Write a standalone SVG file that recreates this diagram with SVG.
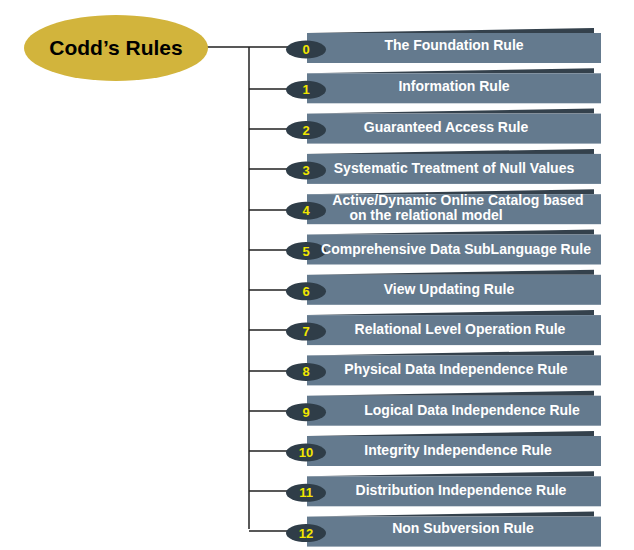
<svg xmlns="http://www.w3.org/2000/svg" width="634" height="550" viewBox="0 0 634 550">
<style>
.bar{fill:#647a8e}.top{fill:#34414c}.badge{fill:#2f3d48}
.t{font-family:"Liberation Sans",Arial,sans-serif;font-weight:bold;font-size:14px;fill:#fff;text-anchor:middle}
.n{font-family:"Liberation Sans",Arial,sans-serif;font-weight:bold;font-size:13px;fill:#f2e600;text-anchor:middle}
.ln{stroke:#222;stroke-width:1.5;fill:none}
</style>
<defs>
<g id="row">
<polygon class="top" points="307,33 594,28 594,33"/>
<rect class="bar" x="307" y="33" width="294" height="30"/>
<ellipse class="badge" cx="306" cy="49.5" rx="20" ry="9"/>
</g>
</defs>
<g id="connectors">
<path class="ln" d="M207,47 H290 M249,47 V529"/>
<path class="ln" d="M249,89 H288 M249,129 H288 M249,169 H288 M249,210 H288 M249,250 H288 M249,290 H288 M249,330 H288 M249,371 H288 M249,411 H288 M249,451 H288 M249,491 H288 M249,531 H288"/>
</g>
<g id="root">
<ellipse cx="116" cy="48" rx="92" ry="33" fill="#d2b43c"/>
<text x="116" y="55" font-family="Liberation Sans,Arial,sans-serif" font-weight="bold" font-size="21" text-anchor="middle" fill="#000">Codd’s Rules</text>
</g>
<g id="r0" transform="translate(0,0)"><use href="#row"/><text class="n" x="306" y="54">0</text><text class="t" x="454" y="50">The Foundation Rule</text></g>
<g id="r1" transform="translate(0,40.3)"><use href="#row"/><text class="n" x="306" y="54">1</text><text class="t" x="454" y="51">Information Rule</text></g>
<g id="r2" transform="translate(0,80.6)"><use href="#row"/><text class="n" x="306" y="54">2</text><text class="t" x="446" y="51">Guaranteed Access Rule</text></g>
<g id="r3" transform="translate(0,120.9)"><use href="#row"/><text class="n" x="306" y="54">3</text><text class="t" x="454" y="52">Systematic Treatment of Null Values</text></g>
<g id="r4" transform="translate(0,161.2)"><use href="#row"/><text class="n" x="306" y="54">4</text><text class="t" x="458" y="44">Active/Dynamic Online Catalog based</text><text class="t" x="426" y="59">on the relational model</text></g>
<g id="r5" transform="translate(0,201.5)"><use href="#row"/><text class="n" x="306" y="54">5</text><text class="t" x="456" y="52">Comprehensive Data SubLanguage Rule</text></g>
<g id="r6" transform="translate(0,241.8)"><use href="#row"/><text class="n" x="306" y="54">6</text><text class="t" x="449" y="52">View Updating Rule</text></g>
<g id="r7" transform="translate(0,282.1)"><use href="#row"/><text class="n" x="306" y="54">7</text><text class="t" x="460" y="52">Relational Level Operation Rule</text></g>
<g id="r8" transform="translate(0,322.4)"><use href="#row"/><text class="n" x="306" y="54">8</text><text class="t" x="456" y="52">Physical Data Independence Rule</text></g>
<g id="r9" transform="translate(0,362.7)"><use href="#row"/><text class="n" x="306" y="54">9</text><text class="t" x="472" y="52">Logical Data Independence Rule</text></g>
<g id="r10" transform="translate(0,403)"><use href="#row"/><text class="n" x="306" y="54">10</text><text class="t" x="458" y="52">Integrity Independence Rule</text></g>
<g id="r11" transform="translate(0,443.3)"><use href="#row"/><text class="n" x="306" y="54">11</text><text class="t" x="461" y="52">Distribution Independence Rule</text></g>
<g id="r12" transform="translate(0,483.6)"><use href="#row"/><text class="n" x="306" y="54">12</text><text class="t" x="463" y="49">Non Subversion Rule</text></g>
</svg>
